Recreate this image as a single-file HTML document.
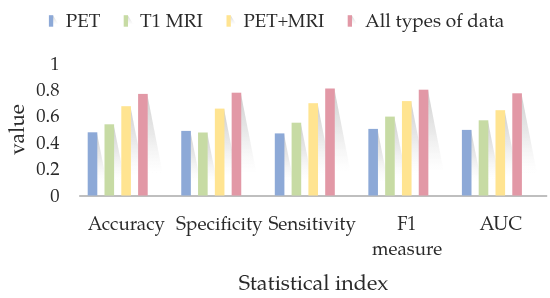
<!DOCTYPE html>
<html><head><meta charset="utf-8">
<style>
html,body{margin:0;padding:0;background:#fff;}
svg{display:block}
text{font-family:"TeX Gyre Pagella","Liberation Serif",serif;font-size:18.67px;fill:#2a2a2a}
.big{font-size:21.33px}
.xl{font-size:19.3px}
</style></head><body>
<svg width="550" height="298" viewBox="0 0 550 298">
<defs>
<linearGradient id="sh" x1="0" y1="0" x2="0" y2="1">
<stop offset="0" stop-color="#c4c4c4" stop-opacity="0.85"/>
<stop offset="0.4" stop-color="#d4d4d4" stop-opacity="0.5"/>
<stop offset="0.78" stop-color="#e8e8e8" stop-opacity="0"/>
</linearGradient>
<linearGradient id="sh2" x1="0" y1="0" x2="0" y2="1">
<stop offset="0" stop-color="#c8c8c8" stop-opacity="0.9"/>
<stop offset="0.8" stop-color="#e0e0e0" stop-opacity="0"/>
</linearGradient>
<filter id="bl" x="-50%" y="-10%" width="200%" height="120%"><feGaussianBlur stdDeviation="0.7"/></filter>
</defs>
<polygon points="52.9,15.2 58.4,24.0 52.9,26.6" fill="url(#sh2)" filter="url(#bl)"/>
<rect x="48.9" y="15.2" width="4.3" height="11.5" fill="#8da9d7"/>
<polygon points="127.7,15.2 133.2,24.0 127.7,26.6" fill="url(#sh2)" filter="url(#bl)"/>
<rect x="123.7" y="15.2" width="4.3" height="11.5" fill="#c7dba4"/>
<polygon points="230.5,15.2 236.0,24.0 230.5,26.6" fill="url(#sh2)" filter="url(#bl)"/>
<rect x="226.5" y="15.2" width="4.3" height="11.5" fill="#ffe491"/>
<polygon points="351.7,15.2 357.2,24.0 351.7,26.6" fill="url(#sh2)" filter="url(#bl)"/>
<rect x="347.7" y="15.2" width="4.3" height="11.5" fill="#e298a6"/>
<g filter="url(#bl)" fill="url(#sh)">
<polygon points="96.80,132.30 109.31,195.50 96.80,195.50"/>
<polygon points="113.60,124.30 127.63,195.50 113.60,195.50"/>
<polygon points="130.40,106.20 147.87,195.50 130.40,195.50"/>
<polygon points="147.20,93.90 167.00,195.50 147.20,195.50"/>
<polygon points="190.35,130.90 203.12,195.50 190.35,195.50"/>
<polygon points="207.15,132.50 219.62,195.50 207.15,195.50"/>
<polygon points="223.95,108.60 240.96,195.50 223.95,195.50"/>
<polygon points="240.75,92.70 260.78,195.50 240.75,195.50"/>
<polygon points="283.90,133.40 296.20,195.50 283.90,195.50"/>
<polygon points="300.70,122.70 315.03,195.50 300.70,195.50"/>
<polygon points="317.50,103.20 335.54,195.50 317.50,195.50"/>
<polygon points="334.30,88.50 355.13,195.50 334.30,195.50"/>
<polygon points="377.45,128.90 390.60,195.50 377.45,195.50"/>
<polygon points="394.25,116.60 409.74,195.50 394.25,195.50"/>
<polygon points="411.05,101.10 429.49,195.50 411.05,195.50"/>
<polygon points="427.85,89.70 448.45,195.50 427.85,195.50"/>
<polygon points="471.00,129.90 483.96,195.50 471.00,195.50"/>
<polygon points="487.80,120.30 502.59,195.50 487.80,195.50"/>
<polygon points="504.60,110.20 521.31,195.50 504.60,195.50"/>
<polygon points="521.40,93.30 541.32,195.50 521.40,195.50"/>
</g>
<rect x="79.2" y="195" width="468.0" height="2" fill="#bfbfbf"/>
<rect x="87.70" y="132.30" width="9.6" height="63.20" fill="#8da9d7"/>
<rect x="104.50" y="124.30" width="9.6" height="71.20" fill="#c7dba4"/>
<rect x="121.30" y="106.20" width="9.6" height="89.30" fill="#ffe491"/>
<rect x="138.10" y="93.90" width="9.6" height="101.60" fill="#e298a6"/>
<rect x="181.25" y="130.90" width="9.6" height="64.60" fill="#8da9d7"/>
<rect x="198.05" y="132.50" width="9.6" height="63.00" fill="#c7dba4"/>
<rect x="214.85" y="108.60" width="9.6" height="86.90" fill="#ffe491"/>
<rect x="231.65" y="92.70" width="9.6" height="102.80" fill="#e298a6"/>
<rect x="274.80" y="133.40" width="9.6" height="62.10" fill="#8da9d7"/>
<rect x="291.60" y="122.70" width="9.6" height="72.80" fill="#c7dba4"/>
<rect x="308.40" y="103.20" width="9.6" height="92.30" fill="#ffe491"/>
<rect x="325.20" y="88.50" width="9.6" height="107.00" fill="#e298a6"/>
<rect x="368.35" y="128.90" width="9.6" height="66.60" fill="#8da9d7"/>
<rect x="385.15" y="116.60" width="9.6" height="78.90" fill="#c7dba4"/>
<rect x="401.95" y="101.10" width="9.6" height="94.40" fill="#ffe491"/>
<rect x="418.75" y="89.70" width="9.6" height="105.80" fill="#e298a6"/>
<rect x="461.90" y="129.90" width="9.6" height="65.60" fill="#8da9d7"/>
<rect x="478.70" y="120.30" width="9.6" height="75.20" fill="#c7dba4"/>
<rect x="495.50" y="110.20" width="9.6" height="85.30" fill="#ffe491"/>
<rect x="512.30" y="93.30" width="9.6" height="102.20" fill="#e298a6"/>
<text x="65.80" y="26.80" textLength="34.54" lengthAdjust="spacingAndGlyphs">PET</text>
<text x="139.90" y="26.80" textLength="62.93" lengthAdjust="spacingAndGlyphs">T1 MRI</text>
<text x="243.60" y="26.80">PET<tspan x="277.30" y="24.70" style="font-size:15px">+</tspan><tspan x="287.80" y="26.80">MRI</tspan></text>
<text x="364.90" y="26.80" textLength="139.32" lengthAdjust="spacingAndGlyphs">All types of data</text>
<text x="59.5" y="201.70" text-anchor="end">0</text>
<text x="59.5" y="175.26" text-anchor="end">0.2</text>
<text x="59.5" y="148.82" text-anchor="end">0.4</text>
<text x="59.5" y="122.38" text-anchor="end">0.6</text>
<text x="59.5" y="95.94" text-anchor="end">0.8</text>
<text x="59.5" y="69.50" text-anchor="end">1</text>
<text class="xl" x="87.80" y="229.60" textLength="77.20" lengthAdjust="spacingAndGlyphs">Accuracy</text>
<text class="xl" x="176.10" y="229.60" textLength="86.60" lengthAdjust="spacingAndGlyphs">Specificity</text>
<text class="xl" x="268.40" y="229.60" textLength="87.62" lengthAdjust="spacingAndGlyphs">Sensitivity</text>
<text class="xl" x="397.20" y="229.60" textLength="19.27" lengthAdjust="spacingAndGlyphs">F1</text>
<text class="xl" x="372.00" y="255.20" textLength="70.30" lengthAdjust="spacingAndGlyphs">measure</text>
<text class="xl" x="479.60" y="229.60" textLength="42.61" lengthAdjust="spacingAndGlyphs">AUC</text>
<text class="big" x="238.85" y="290.00" textLength="149.61" lengthAdjust="spacingAndGlyphs">Statistical index</text>
<text class="big" transform="translate(24.20,154.70) rotate(-90)" textLength="50.60" lengthAdjust="spacingAndGlyphs">value</text>
</svg>
</body></html>
